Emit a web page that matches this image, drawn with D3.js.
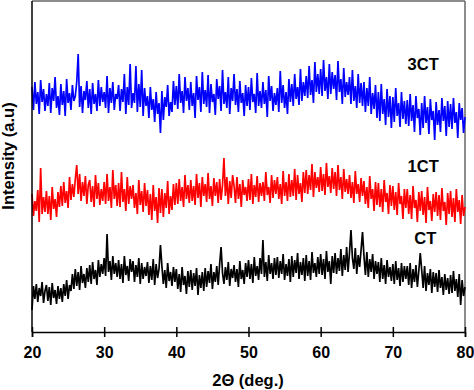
<!DOCTYPE html>
<html><head><meta charset="utf-8">
<script src="https://cdn.jsdelivr.net/npm/d3@7"></script>
<style>
html,body{margin:0;padding:0;background:#fff;}
text{font-family:"Liberation Sans",Arial,sans-serif;font-weight:bold;}
</style></head>
<body><svg id="c" width="474" height="390"></svg>
<script>
// 2θ from 20 to 80 in steps of 0.2 deg
const xStart = 20, xStep = 0.2;
const xTicks = [20, 30, 40, 50, 60, 70, 80];
const seriesNames = ["CT", "1CT", "3CT"];
const seriesColors = ["#000000", "#ff0000", "#0000ff"];

const ct3 = [
245,222,250,228,240,218,252,230,243,221,
238,226,249,219,244,231,255,224,236,217,
248,227,241,216,253,229,239,222,247,231,
236,250,278,225,246,219,241,232,251,224,
243,218,249,228,238,221,252,226,245,230,
240,224,256,219,244,229,250,222,238,233,
247,221,243,230,258,218,245,227,268,224,
239,229,266,220,248,225,262,216,244,226,
236,214,245,222,233,210,240,218,229,199,
241,212,235,225,247,216,230,220,251,227,
246,223,258,229,241,219,255,231,244,222,
250,226,239,214,256,232,245,220,260,228,
242,225,257,219,248,230,238,217,253,233,
246,221,262,228,240,224,255,218,244,231,
258,227,243,220,251,229,239,216,247,226,
245,222,254,230,238,219,259,226,241,224,
250,228,242,215,256,231,246,221,239,227,
244,220,261,229,247,224,240,218,253,230,
248,226,258,233,245,227,263,231,250,236,
256,234,266,237,252,229,270,240,258,238,
263,236,272,241,255,233,268,238,260,243,
257,232,271,240,253,228,264,235,250,237,
255,228,262,231,246,224,258,229,249,226,
250,220,244,226,255,218,239,223,247,214,
240,211,248,218,233,207,243,215,236,204,
235,210,244,216,229,205,240,213,231,208,
232,206,238,211,227,200,236,214,223,197,
229,204,236,209,225,198,233,212,221,192,
230,207,222,200,234,211,226,196,231,205,
228,203,234,209,220,194,229,212,224,199,
215];

const ct1 = [
138,116,131,121,142,110,164,118,135,120,
141,118,136,112,145,123,133,115,140,125,
146,126,150,129,141,124,155,132,148,135,
153,167,138,158,131,150,136,156,128,147,
152,130,146,125,157,133,149,127,143,131,
150,128,158,131,145,124,162,133,147,126,
149,125,160,130,143,121,155,128,146,133,
147,124,139,118,152,127,141,120,149,126,
142,117,138,112,147,121,135,109,144,119,
143,115,139,124,151,118,136,122,148,127,
149,128,153,131,145,125,157,133,147,129,
152,131,146,127,158,134,149,125,155,136,
148,130,159,133,146,126,154,136,150,129,
153,132,147,174,136,155,128,151,134,157,
146,129,155,133,148,125,152,137,145,131,
153,132,158,128,147,135,156,130,149,136,
150,131,160,137,145,129,157,134,152,138,
155,133,148,128,161,136,150,131,158,135,
152,136,163,132,157,138,149,130,160,139,
162,138,157,142,168,135,160,144,155,140,
165,141,158,137,169,145,156,139,164,143,
160,136,167,142,155,133,163,140,153,138,
157,134,150,129,161,138,148,130,154,136,
151,128,145,124,156,133,143,121,150,127,
149,125,143,120,152,130,139,118,147,126,
146,122,140,117,149,128,136,113,143,124,
143,118,137,113,146,124,132,110,140,121,
141,117,135,109,145,122,131,111,138,120,
140,116,137,112,144,121,130,107,139,118,
141,115,134,110,143,120,132,108,137,116,
125];

const ct = [
22,46,33,48,30,44,36,50,29,41,
47,31,45,27,49,34,42,28,46,33,
44,30,48,36,52,33,47,41,58,43,
63,46,60,42,66,49,58,44,64,50,
67,48,70,53,62,47,72,55,68,58,
74,56,98,60,71,52,76,58,69,55,
72,53,68,49,76,57,66,51,73,60,
71,50,67,55,74,48,69,53,65,56,
70,49,66,52,73,47,68,54,63,87,
66,48,62,44,69,51,60,46,65,50,
63,43,58,40,65,47,56,38,61,45,
62,42,59,46,64,37,57,44,60,41,
64,45,61,49,68,43,60,50,66,47,
68,85,59,48,65,52,70,46,63,54,
67,50,63,45,71,53,62,48,69,55,
72,53,68,49,75,56,66,52,74,58,
92,55,70,51,77,58,69,53,74,57,
75,54,71,58,78,52,68,56,73,50,
76,55,72,59,79,53,70,57,74,51,
77,56,71,52,80,59,69,55,75,58,
78,57,73,53,81,60,71,48,76,59,
79,58,74,61,83,56,77,62,85,60,
80,102,74,63,84,58,77,65,82,100,
76,57,80,55,73,60,78,53,71,58,
70,50,74,53,67,48,72,55,65,51,
68,48,71,52,64,46,69,50,66,53,
66,47,69,44,63,50,67,45,61,79,
62,44,66,41,59,47,63,39,60,45,
59,40,62,44,55,37,58,42,54,38,
57,39,61,41,53,35,58,27,52,36,
45];

const seriesValues = [ct, ct1, ct3];
const labelPos = [[74.5, 88], [74.2, 160], [74.2, 262]]; // [2θ, intensity]

const svg = d3.select("#c");
const x = d3.scaleLinear().domain([20, 80]).range([32, 465]);
const y = d3.scaleLinear().domain([0, 331]).range([332, 1]);

// frame (top/right gray)
svg.append("line").attr("x1", 32).attr("x2", 465).attr("y1", 1).attr("y2", 1)
  .attr("stroke", "#666").attr("stroke-width", 1.5);
svg.append("line").attr("x1", 465).attr("x2", 465).attr("y1", 1).attr("y2", 332)
  .attr("stroke", "#666").attr("stroke-width", 1.5);

const line = d3.line().x((d, i) => x(xStart + i * xStep)).y(d => y(d));
seriesValues.forEach((vals, k) => {
  svg.append("path").datum(vals).attr("d", line)
    .attr("fill", "none").attr("stroke", seriesColors[k]).attr("stroke-width", 1.7)
    .attr("stroke-linejoin", "miter").attr("stroke-miterlimit", 3);
});

// left axis line
svg.append("line").attr("x1", 32).attr("x2", 32).attr("y1", 1).attr("y2", 332)
  .attr("stroke", "#000").attr("stroke-width", 1.5);

// bottom axis
const gx = svg.append("g").attr("transform", "translate(0,332)")
  .call(d3.axisBottom(x).tickValues(xTicks).tickFormat(d3.format("d")).tickSize(5).tickPadding(10));
gx.select(".domain").attr("stroke-width", 1.5);
gx.selectAll(".tick line").attr("y1", -5).attr("y2", 5).attr("stroke-width", 1.5);
gx.selectAll(".tick text").attr("font-size", 16).attr("font-weight", "bold")
  .attr("font-family", "Liberation Sans, Arial, sans-serif").attr("fill", "#000");

// axis titles
svg.append("text").attr("x", 248).attr("y", 386).attr("text-anchor", "middle")
  .attr("font-size", 16.5).text("2Θ (deg.)");
svg.append("text").attr("transform", "translate(14,156) rotate(-90)").attr("text-anchor", "middle")
  .attr("font-size", 16.5).text("Intensity (a.u)");

// series labels
seriesNames.forEach((n, k) => {
  svg.append("text").attr("x", x(labelPos[k][0])).attr("y", y(labelPos[k][1]))
    .attr("text-anchor", "middle").attr("font-size", 16.5).text(n);
});
</script></body></html>
